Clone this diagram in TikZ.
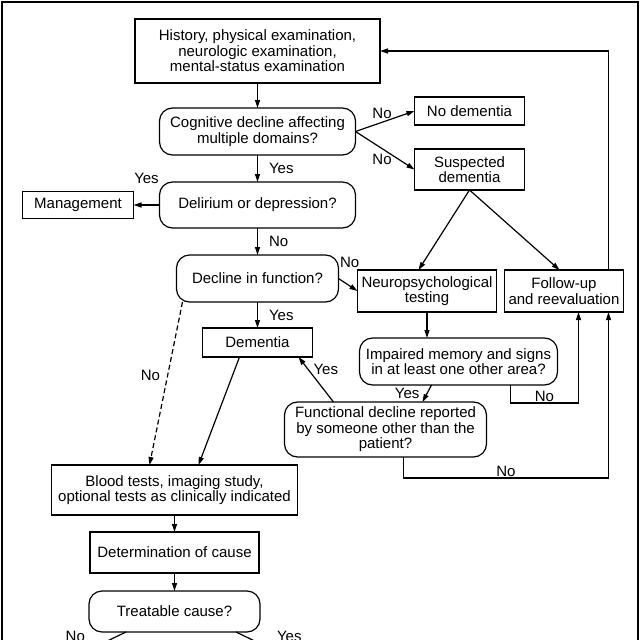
\documentclass[tikz,border=0pt]{standalone}
\usepackage{fontspec}
\setmainfont{Liberation Sans}
\usetikzlibrary{arrows.meta,positioning}
\tikzset{
  proc/.style={draw,line width=1.2pt,inner sep=3pt,outer sep=0pt,align=center,font=\fontsize{15}{15.5}\selectfont},
  query/.style={proc,rounded corners=13pt},
  flow/.style={-{Triangle[length=8pt,width=5pt]},line width=1.2pt},
  maybe/.style={flow,dash pattern=on 5pt off 3pt},
  yn/.style={inner sep=1pt,font=\fontsize{15}{15.5}\selectfont},
}
\begin{document}
\begin{tikzpicture}[x=1pt,y=1pt]
  \useasboundingbox (0,0) rectangle (640,-640);
  \clip (0,0) rectangle (640,-640);
  \draw[line width=1.2pt] (2,-2) rectangle (638,-700);
  % main column
  \node[proc,minimum width=245pt,minimum height=64pt] (hist) at (257.5,-51) {History, physical examination,\\neurologic examination,\\mental-status examination};
  \node[query,below=25pt of hist,minimum width=196pt,minimum height=47pt] (cog) {Cognitive decline affecting\\multiple domains?};
  \node[query,below=27pt of cog,minimum width=196pt,minimum height=46pt] (delir) {Delirium or depression?};
  \node[query,below=27pt of delir,minimum width=162pt,minimum height=47pt] (decl) {Decline in function?};
  \node[proc,below=26pt of decl,minimum width=110pt,minimum height=29pt] (dem) {Dementia};
  \node[proc,left=26pt of delir,minimum width=111pt,minimum height=27pt] (mgmt) {Management};
  % right side
  \node[proc,right=59pt of cog,yshift=20.5pt,minimum width=110pt,minimum height=28pt] (nodem) {No dementia};
  \node[proc,right=59pt of cog,yshift=-38pt,minimum width=110pt,minimum height=41pt] (susp) {Suspected\\dementia};
  \node[proc,right=19pt of decl,yshift=-12.5pt,minimum width=139pt,minimum height=42pt] (neuro) {Neuropsychological\\testing};
  \node[proc,right=8pt of neuro,minimum width=119pt,minimum height=42pt] (follow) {Follow-up\\and reevaluation};
  \node[query,below=26pt of neuro,xshift=31.5pt,minimum width=198pt,minimum height=47pt] (imp) {Impaired memory and signs\\in at least one other area?};
  \node[query,below=17pt of imp,xshift=-73pt,minimum width=202pt,minimum height=55pt] (func) {Functional decline reported\\by someone other than the\\patient?};
  % lower column
  \node[proc,below=108pt of dem,xshift=-83pt,minimum width=246pt,minimum height=50pt] (blood) {Blood tests, imaging study,\\optional tests as clinically indicated};
  \node[proc,below=17pt of blood,minimum width=169pt,minimum height=41pt] (det) {Determination of cause};
  \node[query,below=18pt of det,minimum width=171pt,minimum height=41pt] (treat) {Treatable cause?};
  \coordinate[left=15pt of follow.north east] (loop);
  \coordinate[below left=19pt and 88pt of treat.south] (tno);
  \coordinate[below right=19pt and 101pt of treat.south] (tyes);

  \draw[flow] (hist) -- (cog);
  \draw[flow] (cog.east) -- node[yn,above=2pt,pos=.45] {No} (nodem.west);
  \draw[flow] (cog.east) -- node[yn,below=4pt,pos=.45] {No} (susp.west);
  \draw[flow] (cog) -- node[yn,right=10pt] {Yes} (delir);
  \draw[flow] (delir) -- node[yn,above=20pt] {Yes} (mgmt);
  \draw[flow] (delir) -- node[yn,right=10pt] {No} (decl);
  \draw[flow] (decl.east) -- node[yn,pos=0,above right=9pt and 0pt] {No} (neuro.west);
  \draw[flow] (susp.south) -- (neuro.112);
  \draw[flow] (susp.south) -- (follow.102);
  \draw[flow] (loop) |- (hist);
  \draw[flow] (decl) -- node[yn,right=10pt] {Yes} (dem);
  \draw[maybe] ([xshift=6pt]decl.south west) -- node[yn,left=6pt,pos=.45] {No} ([xshift=-25pt]blood.north);
  \draw[flow] ([xshift=-18pt]dem.south) -- ([xshift=24pt]blood.north);
  \draw[flow] (neuro.south) -- (neuro.south |- imp.north);
  \draw[flow] ([xshift=-27pt]imp.south) -- node[yn,left=6pt] {Yes} ([xshift=37pt]func.north);
  \draw[flow] ([xshift=52pt]imp.south) -- ++(0,-18) -| node[yn,above,pos=.25] {No} ([xshift=14.5pt]follow.south);
  \draw[flow] ([xshift=-52pt]func.north) -- node[yn,right=4pt,pos=.73] {Yes} ([xshift=41pt]dem.south);
  \draw[flow] ([xshift=18pt]func.south) -- ++(0,-21) -| node[yn,above,pos=.25] {No} (loop |- follow.south);
  \draw[flow] (blood) -- (det);
  \draw[flow] (det) -- (treat);
  \draw[flow] ([xshift=-48.5pt]treat.south) -- node[yn,pos=1,above left=8pt and 0pt] {No} (tno);
  \draw[flow] ([xshift=61.5pt]treat.south) -- node[yn,pos=1,above right=8pt and 0pt] {Yes} (tyes);
\end{tikzpicture}
\end{document}
